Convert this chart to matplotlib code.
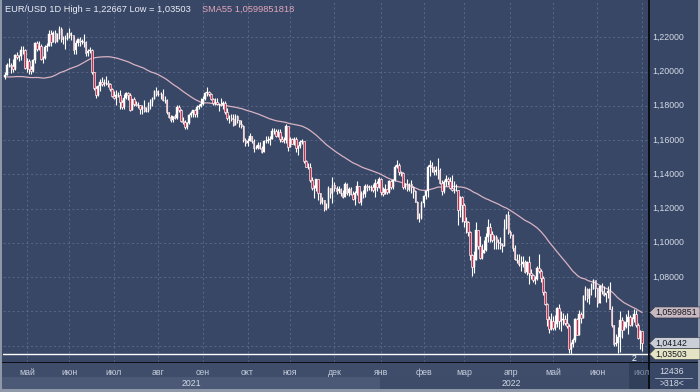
import numpy as np
import pandas as pd
import matplotlib
matplotlib.use("Agg")
import matplotlib.pyplot as plt
from matplotlib.patches import Rectangle, Polygon
import matplotlib.transforms as mtrans

plt.rcParams['font.family'] = ['Liberation Sans', 'DejaVu Sans']

# ---------------- data (EUR/USD daily) ----------------
start_date = "2021-04-16"
end_date = "2022-07-01"

# closes before the first visible bar (only used to warm up the SMA55)
prior_close = [1.2136,
    1.2062, 1.2040, 1.2035, 1.1963, 1.2047, 1.2050, 1.2118, 1.2120, 1.2132, 1.2119,
    1.2128, 1.2104, 1.2038, 1.2092, 1.2119, 1.2156, 1.2150, 1.2167, 1.2177, 1.2076,
    1.2046, 1.2091, 1.2065, 1.1966, 1.1915, 1.1848, 1.1899, 1.1927, 1.1986, 1.1951,
    1.1930, 1.1900, 1.1979, 1.1914, 1.1904, 1.1935, 1.1852, 1.1815, 1.1777, 1.1795,
    1.1763, 1.1717, 1.1730,
    1.1779, 1.1763, 1.1813, 1.1875, 1.1870, 1.1913, 1.1900, 1.1912, 1.1946, 1.1979, 1.1966]

close = [
    # Apr 2021
    1.1982, 1.2036, 1.2037, 1.2034, 1.2014, 1.2097, 1.2083, 1.2090, 1.2127, 1.2123, 1.2020,
    # May 2021
    1.2061, 1.2013, 1.2004, 1.2065, 1.2165, 1.2131, 1.2149, 1.2076, 1.2080, 1.2143, 1.2150,
    1.2222, 1.2174, 1.2226, 1.2180, 1.2214, 1.2250, 1.2192, 1.2193, 1.2193, 1.2227,
    # Jun 2021
    1.2213, 1.2212, 1.2125, 1.2167, 1.2193, 1.2173, 1.2180, 1.2173, 1.2107, 1.2120, 1.2126,
    1.1995, 1.1905, 1.1864, 1.1917, 1.1940, 1.1926, 1.1933, 1.1936, 1.1925, 1.1896, 1.1858,
    # Jul 2021
    1.1848, 1.1865, 1.1866, 1.1823, 1.1791, 1.1844, 1.1875, 1.1861, 1.1776, 1.1837, 1.1810,
    1.1807, 1.1802, 1.1782, 1.1794, 1.1772, 1.1771, 1.1801, 1.1820, 1.1842, 1.1888, 1.1870,
    # Aug 2021
    1.1868, 1.1868, 1.1835, 1.1832, 1.1762, 1.1735, 1.1718, 1.1738, 1.1729, 1.1795, 1.1778,
    1.1711, 1.1708, 1.1676, 1.1698, 1.1746, 1.1757, 1.1773, 1.1751, 1.1794, 1.1800, 1.1808,
    # Sep 2021
    1.1837, 1.1874, 1.1880, 1.1871, 1.1840, 1.1817, 1.1825, 1.1813, 1.1809, 1.1804, 1.1817,
    1.1764, 1.1726, 1.1727, 1.1723, 1.1688, 1.1741, 1.1718, 1.1695, 1.1683, 1.1600, 1.1580,
    # Oct 2021
    1.1596, 1.1621, 1.1596, 1.1554, 1.1555, 1.1574, 1.1553, 1.1528, 1.1595, 1.1597, 1.1601,
    1.1609, 1.1652, 1.1655, 1.1624, 1.1645, 1.1608, 1.1597, 1.1601, 1.1681, 1.1558,
    # Nov 2021
    1.1606, 1.1579, 1.1609, 1.1553, 1.1568, 1.1588, 1.1592, 1.1478, 1.1445, 1.1445, 1.1368,
    1.1319, 1.1318, 1.1370, 1.1291, 1.1236, 1.1249, 1.1199, 1.1211, 1.1318, 1.1290, 1.1338,
    # Dec 2021
    1.1321, 1.1303, 1.1316, 1.1288, 1.1268, 1.1342, 1.1290, 1.1316, 1.1284, 1.1258, 1.1290,
    1.1330, 1.1240, 1.1284, 1.1284, 1.1331, 1.1327, 1.1323, 1.1328, 1.1310, 1.1350, 1.1326, 1.1370,
    # Jan 2022
    1.1294, 1.1286, 1.1313, 1.1297, 1.1359, 1.1325, 1.1368, 1.1443, 1.1455, 1.1412, 1.1408,
    1.1326, 1.1343, 1.1312, 1.1344, 1.1326, 1.1302, 1.1240, 1.1143, 1.1146, 1.1234,
    # Feb 2022
    1.1273, 1.1301, 1.1441, 1.1452, 1.1441, 1.1415, 1.1424, 1.1426, 1.1350, 1.1305, 1.1358,
    1.1372, 1.1362, 1.1322, 1.1310, 1.1306, 1.1308, 1.1193, 1.1270, 1.1219,
    # Mar 2022
    1.1125, 1.1120, 1.1065, 1.0928, 1.0856, 1.0899, 1.1075, 1.0981, 1.0912, 1.0941, 1.0957,
    1.1033, 1.1094, 1.1050, 1.1016, 1.1031, 1.1005, 1.0997, 1.0985, 1.0984, 1.1089, 1.1160, 1.1066,
    # Apr 2022
    1.1046, 1.0972, 1.0904, 1.0902, 1.0878, 1.0877, 1.0888, 1.0829, 1.0889, 1.0826, 1.0810,
    1.0780, 1.0788, 1.0854, 1.0837, 1.0796, 1.0714, 1.0640, 1.0557, 1.0497, 1.0545,
    # May 2022
    1.0505, 1.0523, 1.0620, 1.0541, 1.0550, 1.0557, 1.0530, 1.0516, 1.0380, 1.0411, 1.0435,
    1.0553, 1.0462, 1.0587, 1.0562, 1.0692, 1.0733, 1.0677, 1.0726, 1.0733, 1.0780, 1.0734,
    # Jun 2022
    1.0650, 1.0749, 1.0719, 1.0697, 1.0705, 1.0717, 1.0616, 1.0518, 1.0408, 1.0415, 1.0450,
    1.0548, 1.0493, 1.0509, 1.0535, 1.0569, 1.0522, 1.0554, 1.0583, 1.0520, 1.0442, 1.0484,
    # Jul 2022
    1.0414]

high = [
    1.1995, 1.2049, 1.2080, 1.2048, 1.2071, 1.2105, 1.2117, 1.2095, 1.2150, 1.2150, 1.2130,
    1.2077, 1.2075, 1.2030, 1.2071, 1.2172, 1.2181, 1.2178, 1.2160, 1.2090, 1.2155, 1.2164,
    1.2245, 1.2243, 1.2234, 1.2245, 1.2226, 1.22667, 1.2263, 1.2206, 1.2216, 1.2228,
    1.2254, 1.2230, 1.2210, 1.2185, 1.2197, 1.2200, 1.2193, 1.2218, 1.2178, 1.2131, 1.2144,
    1.2130, 1.1998, 1.1918, 1.1924, 1.1954, 1.1970, 1.1955, 1.1975, 1.1953, 1.1936, 1.1905,
    1.1885, 1.1895, 1.1883, 1.1895, 1.1833, 1.1868, 1.1880, 1.1880, 1.1873, 1.1839, 1.1850,
    1.1830, 1.1825, 1.1805, 1.1803, 1.1832, 1.1794, 1.1820, 1.1841, 1.1849, 1.1893, 1.1909,
    1.1892, 1.1881, 1.1900, 1.1856, 1.1837, 1.1765, 1.1744, 1.1742, 1.1754, 1.1804, 1.1802,
    1.1783, 1.1737, 1.1715, 1.1707, 1.1753, 1.1768, 1.1777, 1.1779, 1.1802, 1.1810, 1.1844,
    1.1857, 1.1882, 1.1909, 1.1884, 1.1875, 1.1845, 1.1844, 1.1846, 1.1815, 1.1846, 1.1830,
    1.1827, 1.1785, 1.1747, 1.1755, 1.1750, 1.1752, 1.1749, 1.1719, 1.1718, 1.1686, 1.1610,
    1.1612, 1.1640, 1.1625, 1.1605, 1.1572, 1.1590, 1.1588, 1.1565, 1.1600, 1.1624, 1.1624,
    1.1624, 1.1669, 1.1668, 1.1664, 1.1667, 1.1665, 1.1625, 1.1619, 1.1692, 1.1667,
    1.1616, 1.1613, 1.1617, 1.1616, 1.1571, 1.1600, 1.1609, 1.1597, 1.1482, 1.1464, 1.1464,
    1.1386, 1.1339, 1.1373, 1.1374, 1.1293, 1.1268, 1.1252, 1.1230, 1.1331, 1.1319, 1.1383,
    1.1353, 1.1332, 1.1330, 1.1320, 1.1307, 1.1355, 1.1350, 1.1328, 1.1327, 1.1300, 1.1302,
    1.1360, 1.1334, 1.1302, 1.1306, 1.1345, 1.1341, 1.1336, 1.1336, 1.1345, 1.1370, 1.1360, 1.1386,
    1.1376, 1.1324, 1.1346, 1.1316, 1.1364, 1.1365, 1.1375, 1.1453, 1.1482, 1.1464, 1.1422,
    1.1413, 1.1351, 1.1370, 1.1348, 1.1368, 1.1330, 1.1309, 1.1247, 1.1174, 1.1242,
    1.1282, 1.1310, 1.1452, 1.1483, 1.1469, 1.1449, 1.1447, 1.1495, 1.1439, 1.1364, 1.1368,
    1.1395, 1.1387, 1.1384, 1.1395, 1.1363, 1.1346, 1.1307, 1.1273, 1.1273,
    1.1234, 1.1152, 1.1125, 1.1068, 1.0935, 1.0951, 1.1121, 1.1076, 1.1042, 1.0991, 1.1016,
    1.1055, 1.1137, 1.1113, 1.1069, 1.1045, 1.1045, 1.1024, 1.1036, 1.0998, 1.1137, 1.1171, 1.1185,
    1.1077, 1.1054, 1.0988, 1.0936, 1.0935, 1.0921, 1.0923, 1.0900, 1.0895, 1.0924, 1.0847,
    1.0815, 1.0805, 1.0867, 1.0936, 1.0848, 1.0807, 1.0720, 1.0651, 1.0570, 1.0593,
    1.0570, 1.0579, 1.0628, 1.0641, 1.0601, 1.0593, 1.0577, 1.0590, 1.0525, 1.0420, 1.0444,
    1.0561, 1.0563, 1.0606, 1.0595, 1.0697, 1.0748, 1.0737, 1.0737, 1.0765, 1.0787, 1.0779,
    1.0737, 1.0755, 1.0764, 1.0750, 1.0709, 1.0749, 1.0774, 1.0630, 1.0518, 1.0469, 1.0506,
    1.0601, 1.0566, 1.0545, 1.0583, 1.0606, 1.0578, 1.0569, 1.0615, 1.0606, 1.0532, 1.0488,
    1.0486]

low = [
    1.1957, 1.1980, 1.2024, 1.1992, 1.1995, 1.2010, 1.2075, 1.2061, 1.2070, 1.2100, 1.2016,
    1.1995, 1.1987, 1.1986, 1.1999, 1.2052, 1.2120, 1.2125, 1.2067, 1.2052, 1.2072, 1.2119,
    1.2148, 1.2152, 1.2173, 1.2165, 1.2170, 1.2192, 1.2175, 1.2160, 1.2134, 1.2186,
    1.2194, 1.2182, 1.2103, 1.2104, 1.2151, 1.2150, 1.2163, 1.2144, 1.2093, 1.2092, 1.2106,
    1.1987, 1.1891, 1.1847, 1.1860, 1.1885, 1.1913, 1.1916, 1.1922, 1.1911, 1.1884, 1.1850,
    1.1837, 1.1807, 1.1854, 1.1782, 1.1781, 1.1781, 1.1838, 1.1836, 1.1772, 1.1774, 1.1797,
    1.1796, 1.1786, 1.1753, 1.1752, 1.1765, 1.1761, 1.1762, 1.1780, 1.1800, 1.1839, 1.1856,
    1.1855, 1.1842, 1.1828, 1.1817, 1.1754, 1.1727, 1.1706, 1.1705, 1.1721, 1.1724, 1.1764,
    1.1707, 1.1692, 1.1667, 1.1664, 1.1694, 1.1734, 1.1736, 1.1735, 1.1735, 1.1782, 1.1794,
    1.1802, 1.1834, 1.1856, 1.1860, 1.1833, 1.1802, 1.1806, 1.1807, 1.1770, 1.1800, 1.1784,
    1.1750, 1.1720, 1.1701, 1.1714, 1.1684, 1.1686, 1.1700, 1.1676, 1.1670, 1.1587, 1.1563,
    1.1567, 1.1593, 1.1580, 1.1529, 1.1547, 1.1545, 1.1546, 1.1524, 1.1528, 1.1584, 1.1584,
    1.1571, 1.1608, 1.1633, 1.1619, 1.1618, 1.1590, 1.1586, 1.1584, 1.1583, 1.1535,
    1.1560, 1.1575, 1.1570, 1.1528, 1.1513, 1.1553, 1.1576, 1.1467, 1.1443, 1.1433, 1.1357,
    1.1309, 1.1264, 1.1301, 1.1250, 1.1227, 1.1226, 1.1186, 1.1189, 1.1206, 1.1264, 1.1235,
    1.1300, 1.1286, 1.1290, 1.1275, 1.1263, 1.1266, 1.1277, 1.1271, 1.1277, 1.1250, 1.1222,
    1.1281, 1.1235, 1.1222, 1.1263, 1.1270, 1.1304, 1.1310, 1.1300, 1.1298, 1.1268, 1.1300, 1.1320,
    1.1280, 1.1272, 1.1285, 1.1285, 1.1290, 1.1315, 1.1314, 1.1360, 1.1436, 1.1396, 1.1392,
    1.1314, 1.1315, 1.1301, 1.1302, 1.1290, 1.1263, 1.1236, 1.1139, 1.1121, 1.1140,
    1.1209, 1.1254, 1.1270, 1.1393, 1.1415, 1.1395, 1.1397, 1.1375, 1.1342, 1.1280, 1.1290,
    1.1334, 1.1340, 1.1312, 1.1301, 1.1288, 1.1303, 1.1106, 1.1153, 1.1123,
    1.1091, 1.1058, 1.1040, 1.0900, 1.0806, 1.0824, 1.0902, 1.0961, 1.0904, 1.0905, 1.0938,
    1.0952, 1.1003, 1.1003, 1.1002, 1.0965, 1.0966, 1.0962, 1.0965, 1.0945, 1.0980, 1.1080, 1.1054,
    1.1028, 1.0955, 1.0898, 1.0883, 1.0866, 1.0836, 1.0858, 1.0822, 1.0810, 1.0757, 1.0790,
    1.0770, 1.0760, 1.0782, 1.0826, 1.0771, 1.0697, 1.0636, 1.0516, 1.0471, 1.0490,
    1.0491, 1.0493, 1.0506, 1.0494, 1.0483, 1.0519, 1.0519, 1.0501, 1.0355, 1.03503, 1.0389,
    1.0420, 1.0460, 1.0460, 1.0532, 1.0560, 1.0666, 1.0653, 1.0641, 1.0698, 1.0729, 1.0682,
    1.0627, 1.0647, 1.0701, 1.0687, 1.0654, 1.0680, 1.0611, 1.0507, 1.0398, 1.0397, 1.0359,
    1.0360, 1.0445, 1.0488, 1.0502, 1.0469, 1.0512, 1.0512, 1.0538, 1.0506, 1.0437, 1.0382,
    1.0366]

price_ticks = [1.04, 1.06, 1.08, 1.10, 1.12, 1.14, 1.16, 1.18, 1.20, 1.22]
label_ticks = [1.08, 1.10, 1.12, 1.14, 1.16, 1.18, 1.20, 1.22]
month_names = {1: 'янв', 2: 'фев', 3: 'мар', 4: 'апр', 5: 'май', 6: 'июн',
               7: 'июл', 8: 'авг', 9: 'сен', 10: 'окт', 11: 'ноя', 12: 'дек'}
title_text = "EUR/USD 1D High = 1,22667 Low = 1,03503"
sma_text = "SMA55 1,0599851818"
sma_value_label = "1,0599851"
last_label = "1,04142"
low_label = "1,03503"
sma_period = 55
bars_text = "12436"
visible_text = ">318<"

# ---------------- derived series ----------------
dates = pd.bdate_range(start_date, end_date)
close = np.array(close)
high = np.array(high)
low = np.array(low)
n = len(close)
assert len(dates) == n == len(high) == len(low), (len(dates), n, len(high), len(low))
opens = np.r_[prior_close[-1], close[:-1]]
allc = pd.Series(np.r_[prior_close, close])
sma = allc.rolling(sma_period).mean().to_numpy()[-n:]
x = np.arange(n)

# ---------------- figure / layout (pixel based) ----------------
W, H = 700, 392
BG = '#394766'
fig = plt.figure(figsize=(W / 100, H / 100), dpi=100, facecolor='#8e98a9')

bg = fig.add_axes([0, 0, 1, 1], zorder=0)
bg.set_xlim(0, W); bg.set_ylim(H, 0); bg.axis('off')

AX_L, AX_R, AX_T, AX_B = 3, 648, 1, 362
ax = fig.add_axes([AX_L / W, 1 - AX_B / H, (AX_R - AX_L) / W, (AX_B - AX_T) / H], zorder=1)
ax.set_facecolor(BG)
for s in ax.spines.values():
    s.set_visible(False)
ax.set_xlim(-0.86, 317.97)
ax.set_ylim(1.0304, 1.2412)

# grid
month_start = [i for i in range(1, n) if dates[i].month != dates[i - 1].month]
ax.set_yticks(price_ticks)
ax.set_xticks(month_start)
ax.tick_params(length=0, labelleft=False, labelbottom=False)
ax.grid(True, color='#5d6c8a', lw=0.6, ls=(0, (2.5, 3)))
ax.set_axisbelow(True)

# SMA
ax.plot(x, sma, color='#d8b2c3', lw=0.9, zorder=2)

# candles
up = close >= opens
bb = np.minimum(opens, close)
bh = np.maximum(np.abs(close - opens), 0.00005)
ax.vlines(x, low, high, color='white', lw=0.8, zorder=3)
ax.bar(x[up], bh[up], bottom=bb[up], width=0.8, color='white',
       edgecolor='white', lw=0.3, zorder=4)
ax.bar(x[~up], bh[~up], bottom=bb[~up], width=0.8, color='#c2304e',
       edgecolor='white', lw=0.45, zorder=4)

# low line
lowest = low.min()
ax.axhline(lowest, color='white', lw=1.0, zorder=5)
ax.text(n - 5, lowest, '2', ha='center', va='top', fontsize=6.3,
        color='white', zorder=6)

def px(i, p=None):
    d = ax.transData.transform((i, p if p is not None else 1.1))
    return d[0], H - d[1]

# bands below the plot
x_jan = px(month_start[[dates[i].month for i in month_start].index(1)] - 0.5)[0]
bg.add_patch(Rectangle((2, 0), 696, 389, color=BG, lw=0))
bg.add_patch(Rectangle((2, AX_B), 646, 15, color='#3f4d6b', lw=0))
bg.add_patch(Rectangle((2, AX_B + 15), x_jan - 2, 12, color='#4b5977', lw=0))
bg.add_patch(Rectangle((x_jan, AX_B + 15), AX_R - x_jan, 12, color='#3e4c69', lw=0))
last_m = month_start[-1]
bg.add_patch(Rectangle((px(last_m)[0] - 13, AX_B + 1), AX_R - px(last_m)[0] + 13, 26,
                       color='#323f5b', lw=0))
bg.add_patch(Rectangle((AX_R, 0), 2, 389, color='#0c0f16', lw=0))
bg.add_patch(Rectangle((2, AX_B - 0.5), 696, 1.6, color='#0c0f16', lw=0))

# month labels
trans_xd = mtrans.blended_transform_factory(ax.transData, ax.transAxes)
for i in month_start:
    col = '#c5cddc' if i != last_m else '#7d8aa3'
    ax.text(i, -0.029, month_names[dates[i].month], transform=trans_xd,
            ha='center', va='center', fontsize=6.3, color=col, clip_on=False)
# year labels
years = dates.year
for yv in sorted(set(years)):
    idx = np.where(years == yv)[0]
    ax.text((idx[0] + idx[-1]) / 2, -0.06, str(yv), transform=trans_xd,
            ha='center', va='center', fontsize=6.3, color='#d3dae6', clip_on=False)

# right price labels
trans_ad = mtrans.blended_transform_factory(ax.transAxes, ax.transData)
for v in label_ticks:
    ax.text(1.0062, v, f'{v:.5f}'.replace('.', ','), transform=trans_ad,
            ha='left', va='center', fontsize=6.3, color='#d3dae6', clip_on=False)

# overlay for tags and texts
ov = fig.add_axes([0, 0, 1, 1], zorder=3)
ov.set_xlim(0, W); ov.set_ylim(H, 0); ov.axis('off')

def tag(price, text, face):
    y = px(0, price)[1]
    pts = [(649.5, y), (655, y - 5.5), (700, y - 5.5), (700, y + 5.5), (655, y + 5.5)]
    ov.add_patch(Polygon(pts, closed=True, facecolor=face, edgecolor='#2a3040', lw=0.4))
    ov.text(655.5, y + 0.3, text, ha='left', va='center', fontsize=6.3, color='#15181f')

tag(sma[-1], sma_value_label, '#c7b8c2')
tag(close[-1], last_label, '#c9ced7')
tag(lowest, low_label, '#e4e4c4')

ov.text(5, 9.5, title_text, ha='left', va='center', fontsize=6.7, color='#e9edf5')
ov.text(202, 9.5, sma_text, ha='left', va='center', fontsize=6.7, color='#e2a7b9')

ov.text(672, 371, bars_text, ha='center', va='center', fontsize=6.3, color='#d3dae6')
ov.plot([655, 692], [377.5, 377.5], color='#aab3c4', lw=0.6)
ov.text(672, 384, visible_text, ha='center', va='center', fontsize=6.3, color='#d3dae6')

fig.savefig('out.png', dpi=100, facecolor=fig.get_facecolor())
